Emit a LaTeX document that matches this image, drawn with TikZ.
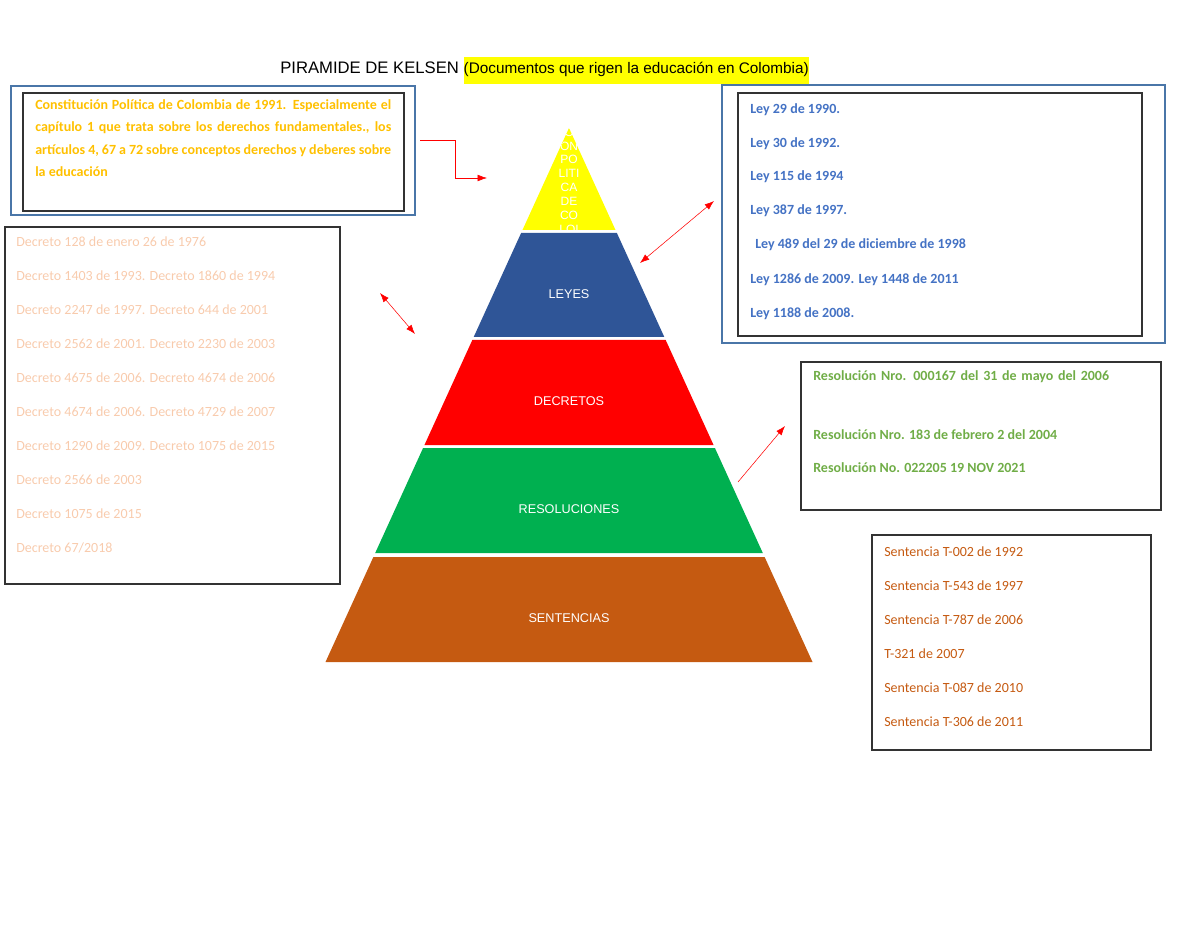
\documentclass[tikz,border=0pt]{standalone}
\usepackage{fontspec}
\setmainfont{Carlito}
\newfontfamily\arialf{Liberation Sans}
\usetikzlibrary{arrows.meta}
\definecolor{yel}{HTML}{FFFF00}
\definecolor{blu}{HTML}{2F5597}
\definecolor{rd}{HTML}{FF0000}
\definecolor{grn}{HTML}{00B050}
\definecolor{org}{HTML}{C55A11}
\definecolor{cgold}{HTML}{FFC000}
\definecolor{csalmon}{HTML}{F8CBAD}
\definecolor{cley}{HTML}{4472C4}
\definecolor{cres}{HTML}{70AD47}
\definecolor{frame}{HTML}{4A76A8}
\tikzset{
 lay/.style={fill=#1,draw=none},
 laytxt/.style={text=white,font=\arialf\fontsize{9.5}{11}\selectfont},
 itm/.style={anchor=west,inner sep=0pt,font=\fontsize{10.5}{12}\selectfont},
 arr/.style={draw=red,-{Latex[length=7pt,width=5pt]}},
 darr/.style={draw=red,{Latex[length=7pt,width=5pt]}-{Latex[length=7pt,width=5pt]}},
}
\begin{document}
\begin{tikzpicture}[x=0.75pt,y=-0.75pt]
\useasboundingbox (0,0) rectangle (1200,927);
% pyramid: half width = (y-128)*0.456, apex x=569
\def\hw#1{(#1-128)*0.456}
\fill[yel] (569,128) -- ({569+(230-128)*0.456},230) -- ({569-(230-128)*0.456},230) -- cycle;
\begin{scope}
\clip (569,128) -- ({569+(230-128)*0.456},230) -- ({569-(230-128)*0.456},230) -- cycle;
\foreach \t/\yy in {C/132,ON/146,PO/159,LITI/173,CA/187,DE/201,CO/215,LOI/229}
  \node[laytxt,inner sep=0pt,font=\arialf\fontsize{9}{10}\selectfont] at (569,\yy) {\t};
\end{scope}
\foreach \a/\b/\c/\n/\lab in {233/337/blu/leyes/LEYES,340/445/rd/decretos/DECRETOS,448/553/grn/resol/RESOLUCIONES,557/662/org/sent/SENTENCIAS}{
  \fill[\c] ({569-(\a-128)*0.456},\a) -- ({569+(\a-128)*0.456},\a) -- ({569+(\b-128)*0.456},\b) -- ({569-(\b-128)*0.456},\b) -- cycle;
  \node[laytxt] (\n) at (569,{(\a+\b)/2+9}) {\lab};
}
% title
\node[inner sep=0pt,anchor=base west,font=\arialf\fontsize{12.5}{14}\selectfont] (title) at (280,74) {PIRAMIDE DE KELSEN \colorbox{yel}{\strut\fontsize{11.5}{14}\selectfont\hspace{-3pt}(Documentos que rigen la educación en Colombia)\hspace{-3pt}}};
% constitucion
\draw[frame,line width=1.2pt] (11,86) rectangle (415,215);
\draw[black!80,line width=0.9pt] (23,93) rectangle (404,211);
\node[anchor=north west,inner sep=0pt,text width=267pt,align=justify,text=cgold,font=\bfseries\fontsize{10.5}{16.9}\selectfont] (const) at (35,99) {Constitución Política de Colombia de 1991. Especialmente el capítulo 1 que trata sobre los derechos fundamentales., los artículos 4, 67 a 72 sobre conceptos derechos y deberes sobre la educación};
% decretos box
\draw[black!80,line width=0.8pt] (5,227) rectangle (340,584);
\foreach \t [count=\i from 0] in {Decreto 128 de enero 26 de 1976,Decreto 1403 de 1993. Decreto 1860 de 1994,Decreto 2247 de 1997. Decreto 644 de 2001,Decreto 2562 de 2001. Decreto 2230 de 2003,Decreto 4675 de 2006. Decreto 4674 de 2006,Decreto 4674 de 2006. Decreto 4729 de 2007,Decreto 1290 de 2009. Decreto 1075 de 2015,Decreto 2566 de 2003,Decreto 1075 de 2015,Decreto 67/2018}
  \node[itm,text=csalmon] (d\i) at (16,{242+34*\i}) {\t};
% leyes box
\draw[frame,line width=1.2pt] (722,85) rectangle (1165,343);
\draw[black!80,line width=0.9pt] (738,93) rectangle (1142,336);
\foreach \t/\yy/\xx [count=\i] in {Ley 29 de 1990./110/750,Ley 30 de 1992./144/750,Ley 115 de 1994/177/750,Ley 387 de 1997./211/750,Ley 489 del 29 de diciembre de 1998/245/755,Ley 1286 de 2009. Ley 1448 de 2011/280/750,Ley 1188 de 2008./314/750}
  \node[itm,text=cley,font=\bfseries\fontsize{10.5}{12}\selectfont] (l\i) at (\xx,\yy) {\t};
% resoluciones box
\draw[black!80,line width=0.8pt] (801,362) rectangle (1161,510);
\node[anchor=north west,inner sep=0pt,text width=252pt,text=cres,font=\bfseries\fontsize{10.5}{15.5}\selectfont] (r1) at (813,370) {Resolución Nro. 000167 del 31 de mayo del 2006};
\node[itm,text=cres,font=\bfseries\fontsize{10.5}{12}\selectfont] (r2) at (813,435) {Resolución Nro. 183 de febrero 2 del 2004};
\node[itm,text=cres,font=\bfseries\fontsize{10.5}{12}\selectfont] (r3) at (813,468) {Resolución No. 022205 19 NOV 2021};
% sentencias box
\draw[black!80,line width=0.8pt] (872,535) rectangle (1151,750);
\foreach \t [count=\i from 0] in {Sentencia T-002 de 1992,Sentencia T-543 de 1997,Sentencia T-787 de 2006,T-321 de 2007,Sentencia T-087 de 2010,Sentencia T-306 de 2011}
  \node[itm,text=org] (s\i) at (884,{552+34*\i}) {\t};
% arrows
\coordinate (a1) at (420,140); \coordinate (a2) at (487,178);
\draw[arr] (a1) -- (455,140) -- (455,178) -- (a2);
\coordinate (b1) at (380,293); \coordinate (b2) at (415,334);
\draw[darr] (b1) -- (b2);
\coordinate (c1) at (640,263); \coordinate (c2) at (714,201);
\draw[darr] (c1) -- (c2);
\coordinate (e1) at (738,482); \coordinate (e2) at (785,426);
\draw[arr] (e1) -- (e2);
\end{tikzpicture}
\end{document}
